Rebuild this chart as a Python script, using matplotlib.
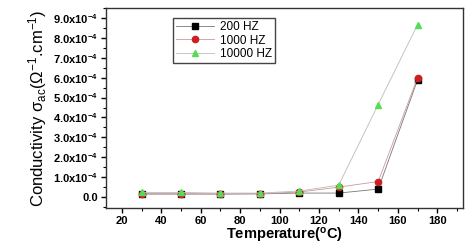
import numpy as np
import matplotlib.pyplot as plt
from matplotlib.ticker import FixedLocator, AutoMinorLocator

temp = [30, 50, 70, 90, 110, 130, 150, 170]
s200 = [0.15, 0.15, 0.15, 0.16, 0.2, 0.2, 0.4, 5.9]
s1000 = [0.17, 0.17, 0.16, 0.17, 0.25, 0.5, 0.78, 6.0]
s10000 = [0.23, 0.23, 0.2, 0.2, 0.3, 0.6, 4.65, 8.67]
yticks = [0, 1, 2, 3, 4, 5, 6, 7, 8, 9]
ylabels = ['0.0'] + ['%.1fx10$^{-4}$' % v for v in yticks[1:]]
xticks = [20, 40, 60, 80, 100, 120, 140, 160, 180]

plt.rcParams['font.family'] = ['Liberation Sans', 'DejaVu Sans']
plt.rcParams['mathtext.default'] = 'regular'

fig = plt.figure(figsize=(4.74, 2.49), dpi=100)
ax = fig.add_axes([106/474, 1-208/249, 357/474, 200/249])

ax.plot(temp, s200, '-s', color='#777777', lw=0.6, ms=4, mfc='black', mec='black', label='200 HZ')
ax.plot(temp, s1000, '-o', color='#cc9999', lw=0.6, ms=4.5, mfc='#cc2020', mec='#cc2020', label='1000 HZ')
ax.plot(temp, s10000, '-^', color='#bbbbbb', lw=0.6, ms=5, mfc='#55dd55', mec='#55dd55', label='10000 HZ')

ax.set_xlim(12, 193)
ax.set_ylim(-0.55, 9.5)
ax.yaxis.set_major_locator(FixedLocator(yticks))
ax.set_yticklabels(ylabels, fontsize=8, fontweight='bold')
ax.xaxis.set_major_locator(FixedLocator(xticks))
ax.set_xticklabels([str(v) for v in xticks], fontsize=8, fontweight='bold')
ax.xaxis.set_minor_locator(AutoMinorLocator(2))
ax.yaxis.set_minor_locator(AutoMinorLocator(2))
ax.tick_params(which='major', direction='out', length=3.5, width=1, pad=2)
ax.tick_params(which='minor', direction='out', length=2, width=0.8)
for sp in ax.spines.values():
    sp.set_linewidth(1)
    sp.set_color('#333333')

ax.set_xlabel('Temperature($^{o}$C)', fontsize=10.5, fontweight='bold', labelpad=0)
ax.set_ylabel('Conductivity σ$_{ac}$(Ω$^{-1}$.cm$^{-1}$)', fontsize=12,
              family=['Liberation Sans Narrow', 'Liberation Sans', 'DejaVu Sans'], labelpad=3)

ax.legend(loc='upper left', bbox_to_anchor=(0.17, 0.98), fontsize=8.5, frameon=True,
          fancybox=False, edgecolor='#444444', framealpha=1, handlelength=3.2,
          borderpad=0.3, labelspacing=0.1, handletextpad=0.5)

plt.savefig('out.png', dpi=100)
